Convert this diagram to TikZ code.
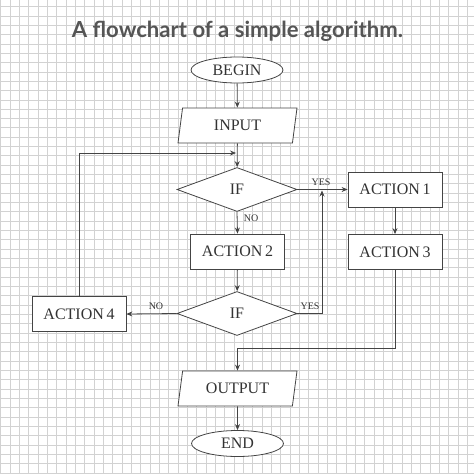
\documentclass[tikz,border=0pt]{standalone}
\usepackage{fontspec}
\setmainfont{Liberation Serif}
\newfontfamily\titlefont{Lato}
\usetikzlibrary{shapes.geometric,arrows.meta}
\definecolor{gridc}{HTML}{D2D2D2}
\definecolor{linec}{HTML}{444444}
\definecolor{textc}{HTML}{333333}
\definecolor{titlec}{HTML}{555555}
\tikzset{
  flow/.style={draw=linec,line width=0.8pt,text=textc,font=\fontsize{16}{18}\selectfont,inner sep=0pt},
  boxnode/.style={flow,rectangle,minimum width=94pt,minimum height=35pt},
  ovalnode/.style={flow,ellipse,minimum width=92pt,minimum height=26pt},
  ionode/.style={flow,trapezium,trapezium left angle=66.8,trapezium right angle=113.2,trapezium stretches body,minimum width=119pt,minimum height=35pt},
  decnode/.style={flow,diamond,minimum width=120pt,minimum height=44pt},
  conn/.style={draw=linec,line width=0.8pt,-{Stealth[length=6pt,width=5pt]}},
  plain/.style={draw=linec,line width=0.8pt},
  lbl/.style={text=textc,font=\fontsize{10}{12}\selectfont,inner sep=0pt},
}
\begin{document}
\begin{tikzpicture}[x=1pt,y=-1pt]
\useasboundingbox (0,0) rectangle (474,474);
\fill[white] (0,0) rectangle (474,474);
\foreach \i in {0,...,51} {
  \draw[gridc,line width=0.6pt] ({0.8+\i*9.33},0) -- ({0.8+\i*9.33},474);
  \draw[gridc,line width=0.6pt] (0,{6.5+\i*9.33}) -- (474,{6.5+\i*9.33});
}
\node[text=titlec] (title) at (237.5,31) {\resizebox{331pt}{!}{\titlefont\bfseries A flowchart of a simple algorithm.}};
\node[ovalnode,fill=white] (begin) at (237,70) {BEGIN};
\node[ionode,fill=white] (input) at (237.5,125.5) {INPUT};
\node[decnode,fill=white] (if1) at (237,189.5) {IF};
\node[boxnode,fill=white] (act1) at (395,189.5) {ACTION\,1};
\node[boxnode,fill=white] (act2) at (237.5,251.5) {ACTION\,2};
\node[boxnode,fill=white] (act3) at (395,252) {ACTION\,3};
\node[decnode,fill=white] (if2) at (237,313.5) {IF};
\node[boxnode,fill=white] (act4) at (79,314) {ACTION\,4};
\node[ionode,fill=white] (output) at (237.5,388.5) {OUTPUT};
\node[ovalnode,fill=white] (end) at (237.5,443.5) {END};
\coordinate (j1) at (236,153);
\coordinate (j2) at (322,190.5);
\coordinate (j3) at (237.5,348);
\draw[conn] (begin) -- (input);
\draw[conn] (input) -- (if1);
\draw[conn] (act4.north) |- (j1);
\draw[conn] (if1.east) -- (act1.west);
\draw[conn] (if1.south) -- (act2.north);
\draw[conn] (act1) -- (act3);
\draw[conn] (act2) -- (if2);
\draw[conn] (if2.west) -- (act4.east);
\draw[conn] (if2.east) -| (j2);
\draw[plain] (act3.south) |- (j3);
\draw[conn] (j3) -- (output.north);
\draw[conn] (output) -- (end);
\node[lbl] (yes1) at (321,182) {YES};
\node[lbl] (no1) at (251,218) {NO};
\node[lbl] (no2) at (156,306) {NO};
\node[lbl] (yes2) at (310,306) {YES};
\end{tikzpicture}
\end{document}
